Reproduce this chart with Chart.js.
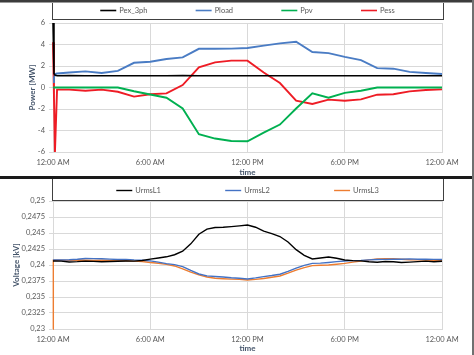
<!DOCTYPE html>
<html><head><meta charset="utf-8">
<script src="https://cdn.jsdelivr.net/npm/chart.js@4.4.1/dist/chart.umd.min.js"></script>
<style>
html,body{margin:0;padding:0;background:#fff;}
#wrap{position:relative;width:474px;height:355px;overflow:hidden;background:#fff;}
#c1{position:absolute;left:0;top:0;}
#c2{position:absolute;left:0;top:179px;}
.topband{position:absolute;left:0;top:0;width:474px;height:2px;background:#3c3c3c;}
.topband2{position:absolute;left:0;top:2px;width:474px;height:1px;background:#9a9a9a;}
.sep{position:absolute;left:0;top:176px;width:472px;height:3px;background:#1a1a1a;}
.rband{position:absolute;left:472px;top:0;width:2px;height:355px;background:#707070;}
</style></head>
<body>
<div id="wrap">
  <canvas id="c1" width="472" height="176"></canvas>
  <canvas id="c2" width="472" height="176"></canvas>
  <div class="topband"></div><div class="topband2"></div>
  <div class="sep"></div>
  <div class="rband"></div>
</div>
<script>
// ---------- shared axis data ----------
const timeTicks = [0, 6, 12, 18, 24];
const timeTickLabels = ['12:00 AM', '6:00 AM', '12:00 PM', '6:00 PM', '12:00 AM'];
const powerTicks = [-6, -4, -2, 0, 2, 4, 6];
const voltTicks = [0.23, 0.2325, 0.235, 0.2375, 0.24, 0.2425, 0.245, 0.2475, 0.25];
const voltTickLabels = ['0,23', '0,2325', '0,235', '0,2375', '0,24', '0,2425', '0,245', '0,2475', '0,25'];

// ---------- power chart (hours) ----------
const powerHours = [0, 0.06, 0.12, 0.25, 1, 2, 3, 4, 5, 6, 7, 8, 9, 10, 11, 12, 13, 14, 15, 16, 17, 18, 19, 20, 21, 22, 23, 24];
const pex3ph = [6.0, 1.3, 1.15, 1.1, 1.12, 1.1, 1.1, 1.1, 1.1, 1.1, 1.1, 1.12, 1.1, 1.1, 1.1, 1.1, 1.1, 1.1, 1.1, 1.1, 1.1, 1.1, 1.1, 1.1, 1.1, 1.1, 1.1, 1.1];
const pload  = [0.5, 0.9, 1.25, 1.3, 1.4, 1.5, 1.35, 1.55, 2.3, 2.4, 2.65, 2.8, 3.6, 3.6, 3.62, 3.67, 3.9, 4.1, 4.25, 3.3, 3.2, 2.85, 2.55, 1.8, 1.75, 1.45, 1.35, 1.25];
const ppv    = [0, 0, 0, 0, 0, 0, 0, 0, -0.35, -0.65, -0.95, -1.95, -4.35, -4.75, -4.98, -5.0, -4.2, -3.45, -1.95, -0.55, -0.95, -0.5, -0.3, 0, 0, 0, 0, 0];
const pess   = [4.2, -0.9, -6.0, -0.2, -0.2, -0.3, -0.2, -0.4, -0.85, -0.63, -0.55, 0.23, 1.88, 2.34, 2.5, 2.5, 1.4, 0.42, -1.23, -1.53, -1.13, -1.23, -1.1, -0.67, -0.63, -0.36, -0.23, -0.17];

// ---------- voltage chart (hours) ----------
const voltHours = [0, 0.02, 0.5, 1, 1.5, 2, 2.5, 3, 3.5, 4, 4.5, 5, 5.5, 6, 6.5, 7, 7.5, 8, 8.5, 9, 9.5, 10, 10.5, 11, 11.5, 12,
  12.5, 13, 13.5, 14, 14.5, 15, 15.5, 16, 16.5, 17, 17.5, 18, 18.5, 19, 19.5, 20, 20.5, 21, 21.5, 22, 22.5, 23, 23.5, 24];
const urmsL1 = [0.24062, 0.24062, 0.24060, 0.24048, 0.24052, 0.24060, 0.24056, 0.24050, 0.24054, 0.24058, 0.24062, 0.24060, 0.24070,
  0.24092, 0.24110, 0.24128, 0.24160, 0.24215, 0.24330, 0.24480, 0.24560, 0.24585, 0.24590, 0.24600, 0.24612, 0.24625,
  0.24590, 0.24530, 0.24490, 0.24445, 0.24360, 0.24240, 0.24150, 0.24095, 0.24110, 0.24125, 0.24105, 0.24078, 0.24068,
  0.24065, 0.24050, 0.24042, 0.24055, 0.24050, 0.24040, 0.24045, 0.24052, 0.24060, 0.24050, 0.24058];
const urmsL2 = [0.24080, 0.24080, 0.24078, 0.24082, 0.24090, 0.24102, 0.24100, 0.24098, 0.24092, 0.24085, 0.24088, 0.24080, 0.24075,
  0.24065, 0.24045, 0.24022, 0.24005, 0.23975, 0.23915, 0.23860, 0.23830, 0.23820, 0.23812, 0.23800, 0.23792, 0.23782,
  0.23798, 0.23818, 0.23835, 0.23855, 0.23900, 0.23950, 0.23995, 0.24025, 0.24030, 0.24040, 0.24052, 0.24062, 0.24068,
  0.24072, 0.24080, 0.24085, 0.24088, 0.24092, 0.24090, 0.24095, 0.24090, 0.24092, 0.24088, 0.24085];
const urmsL3 = [0.23000, 0.24075, 0.24075, 0.24072, 0.24078, 0.24075, 0.24070, 0.24074, 0.24070, 0.24068, 0.24066, 0.24060, 0.24055,
  0.24040, 0.24028, 0.24010, 0.23985, 0.23940, 0.23890, 0.23845, 0.23812, 0.23792, 0.23785, 0.23780, 0.23776, 0.23766,
  0.23776, 0.23790, 0.23808, 0.23828, 0.23872, 0.23920, 0.23960, 0.23990, 0.23995, 0.24000, 0.24012, 0.24026, 0.24045,
  0.24062, 0.24080, 0.24094, 0.24098, 0.24100, 0.24090, 0.24082, 0.24080, 0.24078, 0.24075, 0.24070];

const pts = (xs, ys) => xs.map((x, i) => ({x: x, y: ys[i]}));

Chart.defaults.font.family = 'Lato, "Open Sans", sans-serif';
Chart.defaults.animation = false;

const TICK = '#595959', GRID = '#D9D9D9', TITLE = '#44546A';

const legendBox = {
  id: 'legendBox',
  afterDraw(chart, args, opts) {
    const ctx = chart.ctx, ca = chart.chartArea;
    const left = ca.left - 1, right = ca.right + 1;
    ctx.save();
    ctx.strokeStyle = '#404040';
    ctx.lineWidth = 1;
    ctx.strokeRect(left + 0.5, opts.top + 0.5, right - left, opts.bottom - opts.top);
    ctx.font = '7.5px Lato, "Open Sans", sans-serif';
    const items = chart.data.datasets.map(ds => ({label: ds.label, color: ds.borderColor,
      w: 16 + 3 + ctx.measureText(ds.label).width}));
    const sum = items.reduce((a, b) => a + b.w, 0);
    const gap = (right - left - sum) / (items.length + 1);
    let x = left + gap;
    items.forEach(it => {
      ctx.strokeStyle = it.color;
      ctx.lineWidth = opts.lineWidth;
      ctx.beginPath();
      ctx.moveTo(x, opts.y + 0.5);
      ctx.lineTo(x + 16, opts.y + 0.5);
      ctx.stroke();
      ctx.fillStyle = TICK;
      ctx.textBaseline = 'middle';
      ctx.textAlign = 'left';
      ctx.fillText(it.label, x + 19, opts.y + 0.5);
      x += it.w + gap;
    });
    ctx.restore();
  }
};

function xScale(h, pad, titlePadBottom) {
  return {
    type: 'linear', min: 0, max: 24,
    afterBuildTicks: s => { s.ticks = timeTicks.map(v => ({value: v})); },
    afterFit: s => { s.height = h; },
    ticks: {padding: pad, color: TICK, font: {size: 7.5}, maxRotation: 0, autoSkip: false,
      callback: (v, i) => timeTickLabels[i]},
    grid: {color: GRID, drawTicks: false},
    border: {color: GRID},
    title: {display: true, text: 'time', color: TITLE, font: {size: 8, weight: 'bold', lineHeight: 1},
      padding: {top: 0, bottom: titlePadBottom}}
  };
}

function lineDs(label, xs, ys, color, w) {
  return {label: label, data: pts(xs, ys), borderColor: color, backgroundColor: color,
    borderWidth: w, pointRadius: 0, tension: 0, fill: false, clip: 3};
}

new Chart(document.getElementById('c1'), {
  type: 'line',
  data: {datasets: [
    lineDs('Pex_3ph', powerHours, pex3ph, '#000000', 1.6),
    lineDs('Pload', powerHours, pload, '#4A7CC4', 1.9),
    lineDs('Ppv', powerHours, ppv, '#00B050', 1.9),
    lineDs('Pess', powerHours, pess, '#EE1C25', 1.9)
  ]},
  options: {
    responsive: false,
    devicePixelRatio: 1,
    layout: {padding: {top: 23, right: 30, left: 0, bottom: 0}},
    plugins: {legend: {display: false}, tooltip: {enabled: false},
      legendBox: {top: 1, bottom: 19, y: 10, lineWidth: 1.6}},
    scales: {
      x: xScale(24, 6.5, 0),
      y: {
        min: -6, max: 6,
        afterBuildTicks: s => { s.ticks = powerTicks.map(v => ({value: v})); },
        afterFit: s => { s.width = 53; },
        ticks: {padding: 4, color: TICK, font: {size: 7.5}, callback: v => String(v)},
        grid: {color: GRID, tickLength: 4},
        border: {display: false},
        title: {display: true, text: 'Power [MW]', color: TITLE, font: {size: 8, weight: 'bold', lineHeight: 1},
          padding: {top: 28, bottom: 0}}
      }
    }
  },
  plugins: [legendBox]
});

new Chart(document.getElementById('c2'), {
  type: 'line',
  data: {datasets: [
    lineDs('UrmsL1', voltHours, urmsL1, '#000000', 1.4),
    lineDs('UrmsL2', voltHours, urmsL2, '#4472C4', 1.4),
    lineDs('UrmsL3', voltHours, urmsL3, '#ED7D31', 1.4)
  ]},
  options: {
    responsive: false,
    devicePixelRatio: 1,
    layout: {padding: {top: 22, right: 30, left: 0, bottom: 0}},
    plugins: {legend: {display: false}, tooltip: {enabled: false},
      legendBox: {top: -1, bottom: 21, y: 11, lineWidth: 1.4}},
    scales: {
      x: xScale(26, 5.8, 2.25),
      y: {
        min: 0.23, max: 0.25,
        afterBuildTicks: s => { s.ticks = voltTicks.map(v => ({value: v})); },
        afterFit: s => { s.width = 53; },
        ticks: {padding: 4, color: TICK, font: {size: 7.5}, callback: (v, i) => voltTickLabels[i]},
        grid: {color: GRID, tickLength: 4},
        border: {display: false},
        title: {display: true, text: 'Voltage [kV]', color: TITLE, font: {size: 8, weight: 'bold', lineHeight: 1},
          padding: {top: 12, bottom: 0}}
      }
    }
  },
  plugins: [legendBox]
});
</script>
</body></html>
